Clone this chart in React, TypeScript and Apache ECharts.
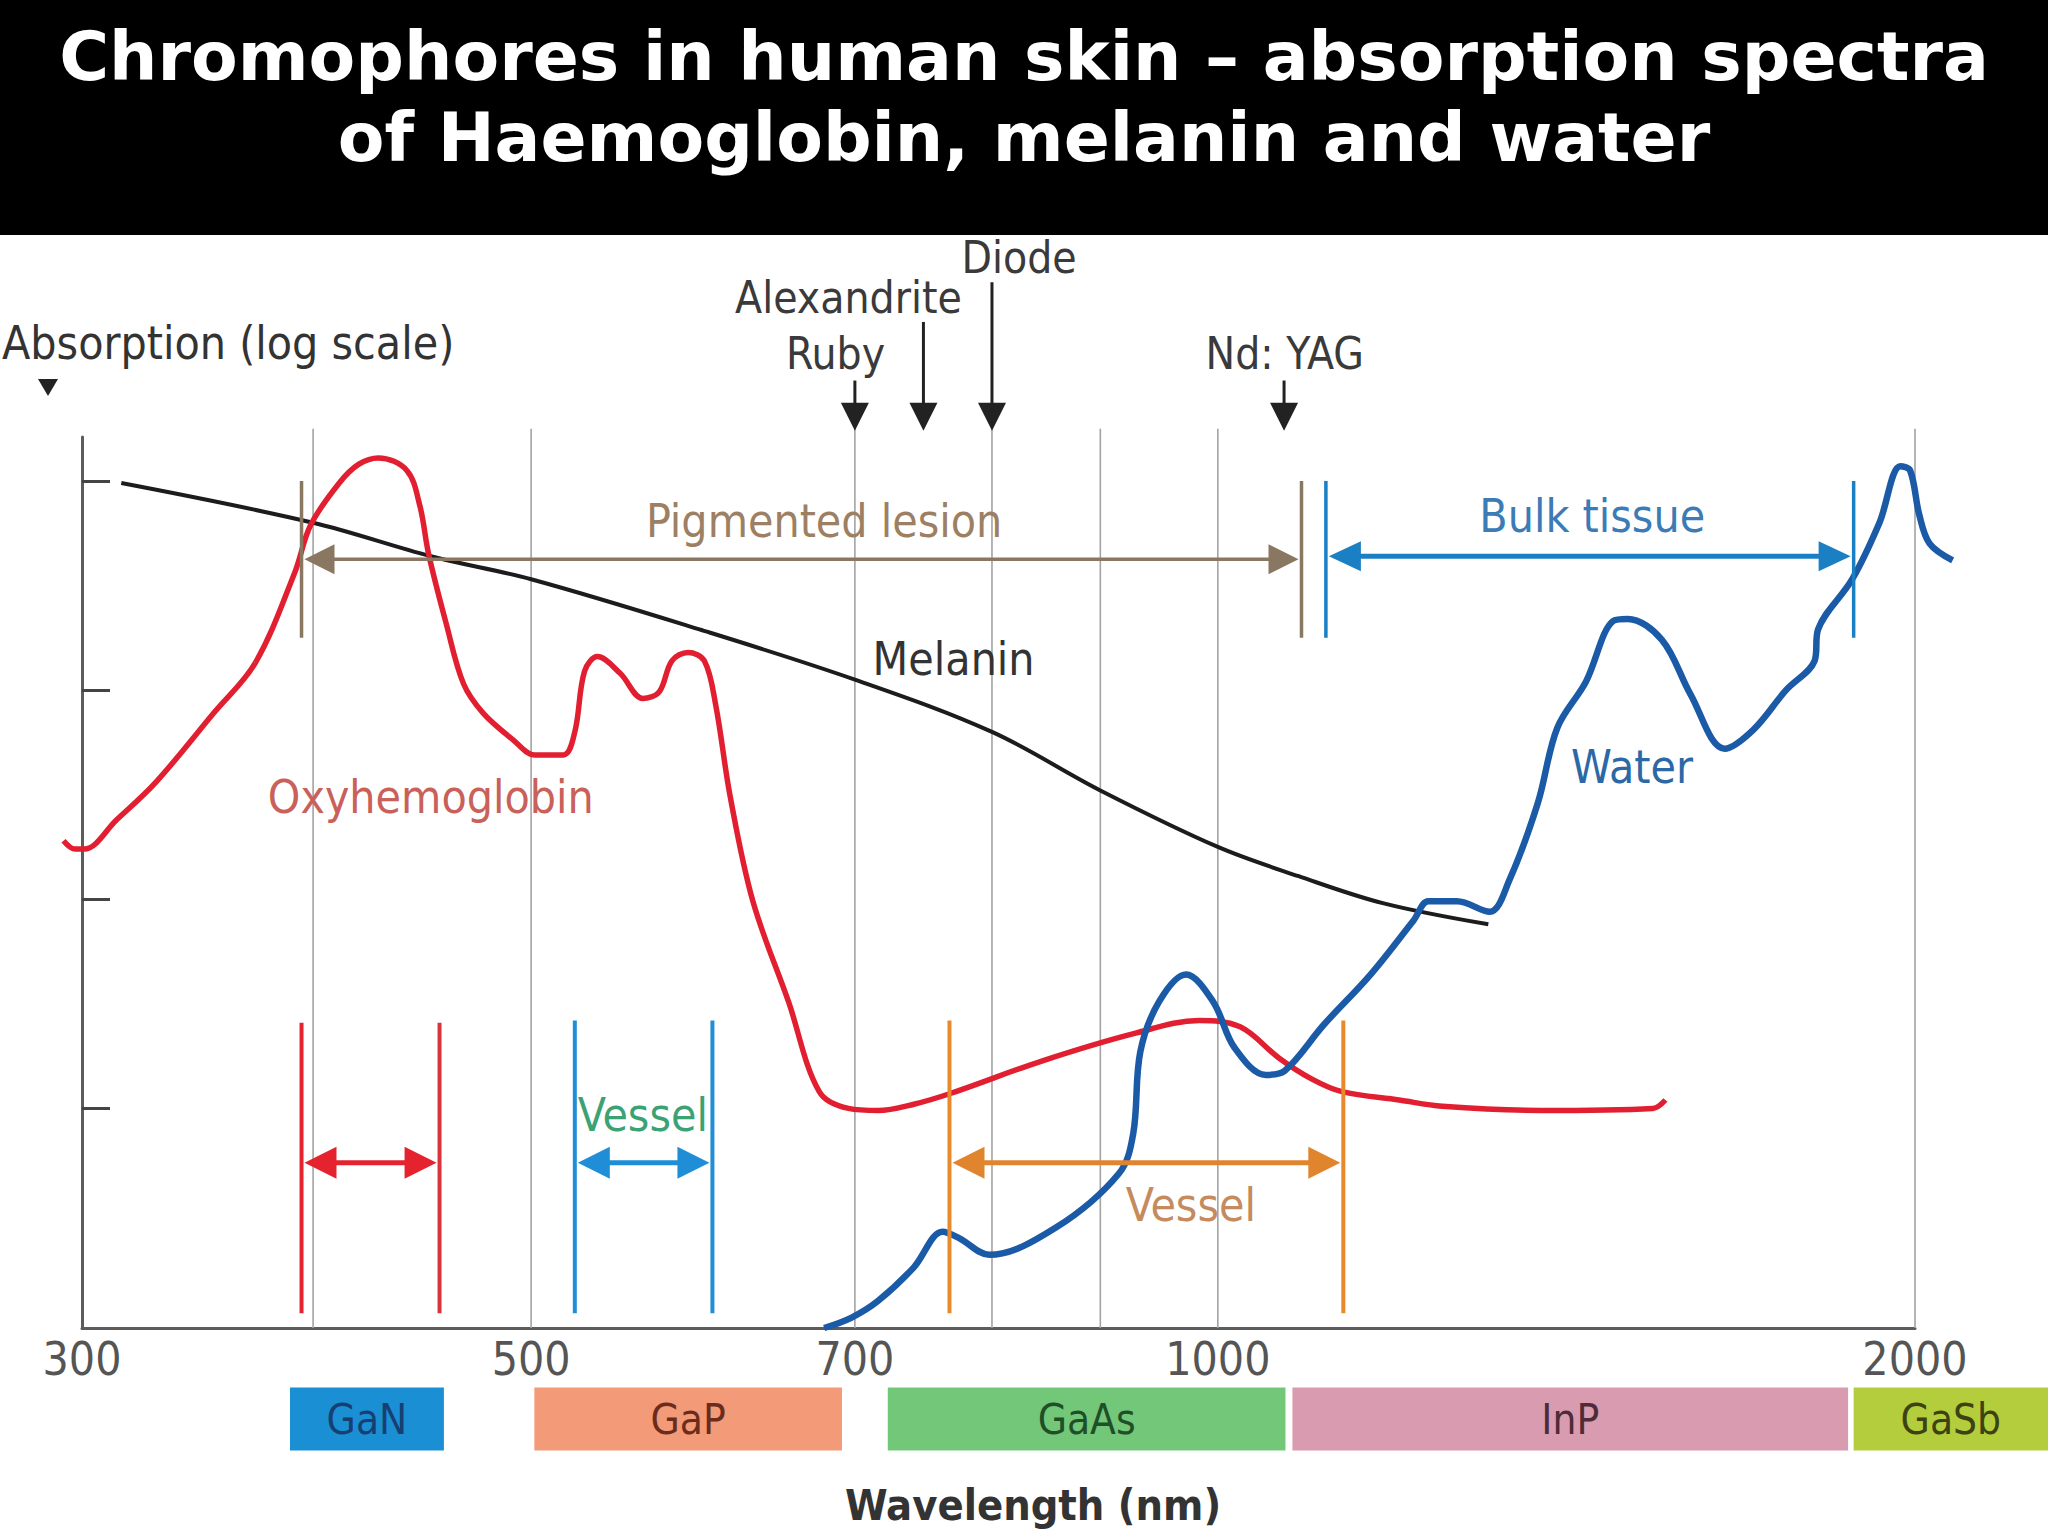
import React, { useEffect, useRef } from "react";
import * as echarts from "echarts";

// ---------- text ----------
const TITLE_LINES = [
  "Chromophores in human skin – absorption spectra",
  "of Haemoglobin, melanin and water",
];
const Y_AXIS_NAME = "Absorption (log scale)";
const X_AXIS_NAME = "Wavelength (nm)";

// ---------- x scale (hand-drawn, roughly logarithmic wavelength axis) ----------
const X_KNOTS_NM = [300, 400, 500, 700, 800, 900, 1000, 2000];
const X_KNOTS_UNIT = [0, 177, 344, 592, 697, 780, 870, 1404];
const X_TICK_LABELS_NM = [300, 500, 700, 1000, 2000];
const GRID_NM = [400, 500, 700, 800, 900, 1000, 2000];
const Y_TICKS = [1, 2, 3, 4];
const Y_MIN = -0.05;
const Y_MAX = 4.21;
// spectra are drawn slightly beyond the framed axis range
const CURVE_NM_MIN = 285;
const CURVE_NM_MAX = 2100;

// ---------- spectra (wavelength nm, log10 absorption, arbitrary) ----------
const oxyNm = [292, 297, 301, 315, 332, 357, 375, 392, 399, 412, 421, 430, 443, 449, 453, 461, 469, 478, 492, 502, 520, 527, 533, 541, 555, 569, 579, 587, 597, 607, 614, 623, 637, 659, 678, 696, 717, 743, 769, 848, 930, 984, 1032, 1088, 1135, 1178, 1260, 1322, 1463, 1624, 1642];
const oxyAbs = [2.28, 2.24, 2.24, 2.38, 2.56, 2.89, 3.13, 3.56, 3.79, 3.99, 4.08, 4.11, 4.05, 3.88, 3.65, 3.32, 3.03, 2.89, 2.76, 2.69, 2.69, 2.8, 3.09, 3.16, 3.08, 2.96, 2.99, 3.14, 3.18, 3.14, 2.93, 2.49, 1.99, 1.51, 1.08, 1.0, 0.99, 1.02, 1.07, 1.23, 1.36, 1.42, 1.39, 1.24, 1.14, 1.08, 1.04, 1.01, 0.99, 1.0, 1.04];

const waterNm = [681, 698, 717, 743, 764, 776, 798, 859, 916, 928, 934, 950, 973, 996, 1024, 1069, 1096, 1152, 1219, 1281, 1302, 1343, 1390, 1418, 1459, 1487, 1528, 1567, 1588, 1637, 1678, 1727, 1768, 1815, 1856, 1861, 1910, 1949, 1979, 1993, 2006, 2021, 2054];
const waterAbs = [-0.05, 0.0, 0.08, 0.24, 0.41, 0.38, 0.3, 0.43, 0.69, 0.88, 1.27, 1.51, 1.64, 1.51, 1.29, 1.16, 1.18, 1.4, 1.64, 1.9, 1.99, 1.99, 1.94, 2.09, 2.46, 2.82, 3.04, 3.33, 3.34, 3.24, 2.98, 2.72, 2.81, 3.0, 3.14, 3.29, 3.53, 3.8, 4.07, 4.05, 3.84, 3.7, 3.62];

const melaninNm = [317, 400, 454, 500, 604, 700, 800, 900, 1000, 1116, 1238, 1388];
const melaninAbs = [3.99, 3.8, 3.64, 3.53, 3.29, 3.05, 2.8, 2.52, 2.25, 2.11, 1.98, 1.88];

// ---------- lasers ----------
const laserNames = ["Ruby", "Alexandrite", "Diode", "Nd: YAG"];
const laserNm = [700, 750, 800, 1095];

// ---------- treatment ranges (nm) ----------
const lesionRangeNm = [395, 1120];
const bulkRangeNm = [1155, 1912];
const redRangeNm = [395, 458];
const blueVesselRangeNm = [527, 612];
const orangeVesselRangeNm = [769, 1180];

// ---------- semiconductor bands ----------
const bandNames = ["GaN", "GaP", "GaAs", "InP", "GaSb"];
const bandStartNm = [390, 502, 724, 1107, 1912];
const bandEndNm = [460, 692, 1097, 1904, 2200];

// ---------- styles / layout ----------
const FONT = '"Liberation Sans Narrow", "DejaVu Sans Condensed", "Roboto Condensed", "Liberation Sans", sans-serif';
const TITLE_FONT = '"DejaVu Sans", Verdana, sans-serif';
const GRID_LEFT = 82;
const GRID_RIGHT = 133;
const GRID_TOP = 437;
const GRID_BOTTOM = 208;
const CHART_W = 2048;
const bandFill = ["#1a8fd4", "#f39a78", "#72c779", "#d89bb0", "#b4cd3c"];
const bandText = ["#173f72", "#6a2c1c", "#1f4f27", "#4d2b38", "#3c4212"];
const laserLayout = [
  { labelNm: 688, labelV: 4.61, top: 4.48 },
  { labelNm: 696, labelV: 4.875, top: 4.76 },
  { labelNm: 825, labelV: 5.07, top: 4.95 },
  { labelNm: 1096, labelV: 4.61, top: 4.48 },
];
const ARROW_TIP_V = 4.24;

function interp(v: number, from: number[], to: number[]): number {
  let i = 0;
  while (i < from.length - 2 && v > from[i + 1]) i++;
  return to[i] + ((v - from[i]) * (to[i + 1] - to[i])) / (from[i + 1] - from[i]);
}
const nmToUnit = (nm: number) => interp(nm, X_KNOTS_NM, X_KNOTS_UNIT);
const unitToNm = (u: number) => interp(u, X_KNOTS_UNIT, X_KNOTS_NM);

const toSeries = (nm: number[], ab: number[]) => nm.map((w, i) => [nmToUnit(w), ab[i]]);

export default function App() {
  const ref = useRef<HTMLDivElement>(null);

  useEffect(() => {
    const chart = echarts.init(ref.current!, null, { renderer: "svg" });
    const uMax = nmToUnit(2000);
    const k = (CHART_W - GRID_LEFT - GRID_RIGHT) / uMax;
    const curveMinU = nmToUnit(CURVE_NM_MIN);
    const curveMaxU = nmToUnit(CURVE_NM_MAX);
    const lineSeries = (name: string, nm: number[], ab: number[], color: string, width: number, z: number) => ({
      name, type: "line", smooth: 0.35, symbol: "none", clip: false, z,
      xAxisIndex: 1, yAxisIndex: 1,
      lineStyle: { color, width },
      data: toSeries(nm, ab),
    });
    const option: any = {
      animation: false,
      backgroundColor: "#ffffff",
      grid: [
        { left: GRID_LEFT, right: GRID_RIGHT, top: GRID_TOP, bottom: GRID_BOTTOM, containLabel: false },
        {
          left: GRID_LEFT + curveMinU * k,
          right: GRID_RIGHT - (curveMaxU - uMax) * k,
          top: GRID_TOP, bottom: GRID_BOTTOM, containLabel: false,
        },
      ],
      xAxis: [
        {
          type: "value", gridIndex: 0, min: 0, max: uMax,
          axisLine: { show: true, onZero: false, lineStyle: { color: "#5c5c5c", width: 3 } },
          axisTick: { show: false },
          splitLine: { show: false },
          axisLabel: {
            customValues: X_TICK_LABELS_NM.map(nmToUnit),
            formatter: (v: number) => String(Math.round(unitToNm(v))),
            color: "#555555", fontSize: 46, fontFamily: FONT, margin: 8,
          },
        },
        { type: "value", gridIndex: 1, min: curveMinU, max: curveMaxU, show: false },
      ],
      yAxis: [
        {
          type: "value", gridIndex: 0, min: Y_MIN, max: Y_MAX,
          axisLine: { show: true, onZero: false, lineStyle: { color: "#5c5c5c", width: 3 } },
          axisTick: { show: true, inside: true, length: 28, customValues: Y_TICKS, lineStyle: { color: "#444", width: 3 } },
          axisLabel: { show: false },
          splitLine: { show: false },
        },
        { type: "value", gridIndex: 1, min: Y_MIN, max: Y_MAX, show: false },
      ],
      series: [
        lineSeries("Melanin", melaninNm, melaninAbs, "#1c1c1c", 4, 3),
        lineSeries("Oxyhemoglobin", oxyNm, oxyAbs, "#e21f30", 5.5, 4),
        lineSeries("Water", waterNm, waterAbs, "#1a5aa6", 6.5, 5),
      ],
    };
    chart.setOption(option);

    const P = (nm: number, v: number) => chart.convertToPixel({ gridIndex: 0 }, [nmToUnit(nm), v]) as number[];
    const g: any[] = [];
    const line = (x1: number, y1: number, x2: number, y2: number, color: string, w: number, z = 6) =>
      g.push({ type: "line", z, silent: true, shape: { x1, y1, x2, y2 }, style: { stroke: color, lineWidth: w } });
    const poly = (points: number[][], color: string, z = 7) =>
      g.push({ type: "polygon", z, silent: true, shape: { points }, style: { fill: color } });
    const text = (s: string, x: number, y: number, color: string, size: number, opts: any = {}) =>
      g.push({
        type: "text", z: opts.z ?? 8, silent: true, x, y,
        style: {
          text: s, fill: color, fontSize: size, fontFamily: opts.family ?? FONT, fontWeight: opts.weight ?? "normal",
          textAlign: opts.align ?? "center", textVerticalAlign: "middle", align: opts.align ?? "center", verticalAlign: "middle",
        },
      });
    const vbar = (nm: number, v0: number, v1: number, color: string, w: number, z = 6) => {
      const a = P(nm, v0), b = P(nm, v1);
      line(a[0], a[1], b[0], b[1], color, w, z);
    };
    const dblArrow = (nmA: number, nmB: number, v: number, color: string, w: number, L: number, H: number) => {
      const a = P(nmA, v), b = P(nmB, v);
      const x0 = a[0] + 3, x1 = b[0] - 3, y = a[1];
      line(x0 + L - 2, y, x1 - L + 2, y, color, w);
      poly([[x0, y], [x0 + L, y - H / 2], [x0 + L, y + H / 2]], color);
      poly([[x1, y], [x1 - L, y - H / 2], [x1 - L, y + H / 2]], color);
    };

    // title band
    g.push({ type: "rect", z: 20, silent: true, shape: { x: 0, y: 0, width: CHART_W, height: 235 }, style: { fill: "#000000" } });
    text(TITLE_LINES[0], 1024, 56, "#ffffff", 68, { weight: "bold", family: TITLE_FONT, z: 21 });
    text(TITLE_LINES[1], 1024, 137, "#ffffff", 68, { weight: "bold", family: TITLE_FONT, z: 21 });

    // vertical grid lines
    GRID_NM.forEach((nm) => vbar(nm, Y_MIN, 4.25, "#a3a3a3", 1.6, 1));

    // axis names
    text(Y_AXIS_NAME, 2, 343, "#333333", 46, { align: "left" });
    poly([[38, 379], [58, 379], [48, 396]], "#222222");
    text(X_AXIS_NAME, 1033, 1505, "#333333", 43, { weight: "bold" });

    // lasers
    laserNames.forEach((name, i) => {
      const tip = P(laserNm[i], ARROW_TIP_V);
      const top = P(laserNm[i], laserLayout[i].top);
      line(tip[0], top[1], tip[0], tip[1] - 20, "#222222", 3);
      poly([[tip[0], tip[1]], [tip[0] - 14, tip[1] - 28], [tip[0] + 14, tip[1] - 28]], "#222222");
      const lp = P(laserLayout[i].labelNm, laserLayout[i].labelV);
      text(name, lp[0], lp[1], "#3a3a3a", 44);
    });

    // pigmented lesion
    vbar(lesionRangeNm[0], 3.25, 4.0, "#8a7762", 3.5);
    vbar(lesionRangeNm[1], 3.25, 4.0, "#8a7762", 3.5);
    dblArrow(lesionRangeNm[0], lesionRangeNm[1], 3.625, "#8a7762", 3.5, 30, 30);
    // bulk tissue
    vbar(bulkRangeNm[0], 3.25, 4.0, "#1b7fc4", 3.5);
    vbar(bulkRangeNm[1], 3.25, 4.0, "#1b7fc4", 3.5);
    dblArrow(bulkRangeNm[0], bulkRangeNm[1], 3.64, "#1b7fc4", 5, 32, 30);
    // red range
    vbar(redRangeNm[0], 0.02, 1.41, "#e5232e", 4);
    vbar(redRangeNm[1], 0.02, 1.41, "#d8343a", 4);
    dblArrow(redRangeNm[0], redRangeNm[1], 0.74, "#e5232e", 5, 32, 32);
    // blue vessel
    vbar(blueVesselRangeNm[0], 0.02, 1.42, "#1f8ed6", 4);
    vbar(blueVesselRangeNm[1], 0.02, 1.42, "#1f8ed6", 4);
    dblArrow(blueVesselRangeNm[0], blueVesselRangeNm[1], 0.74, "#1f8ed6", 5, 32, 32);
    // orange vessel
    vbar(orangeVesselRangeNm[0], 0.02, 1.42, "#e8892b", 4);
    vbar(orangeVesselRangeNm[1], 0.02, 1.42, "#e8892b", 4);
    dblArrow(orangeVesselRangeNm[0], orangeVesselRangeNm[1], 0.74, "#e0852e", 5, 32, 32);

    // curve & range labels
    const label = (s: string, nm: number, v: number, color: string) => {
      const p = P(nm, v);
      text(s, p[0], p[1], color, 46);
    };
    label("Pigmented lesion", 681, 3.81, "#9d8063");
    label("Bulk tissue", 1537, 3.83, "#3b7cb6");
    label("Melanin", 772, 3.15, "#333333");
    label("Oxyhemoglobin", 454, 2.49, "#c9615a");
    label("Water", 1594, 2.63, "#2d68a6");
    label("Vessel", 569, 0.97, "#3ba274");
    label("Vessel", 977, 0.54, "#c58a5e");

    // semiconductor bands
    bandNames.forEach((name, i) => {
      const a = P(bandStartNm[i], -0.335);
      const b = P(bandEndNm[i], -0.636);
      g.push({ type: "rect", z: 6, silent: true, shape: { x: a[0], y: a[1], width: b[0] - a[0], height: b[1] - a[1] }, style: { fill: bandFill[i] } });
      const cx = i === 4 ? (a[0] + CHART_W) / 2 : (a[0] + b[0]) / 2;
      text(name, cx, (a[1] + b[1]) / 2, bandText[i], 42);
    });

    chart.setOption({ graphic: { elements: g } });
    return () => chart.dispose();
  }, []);

  return <div ref={ref} style={{ position: "fixed", left: 0, top: 0, width: CHART_W, height: 1536 }} />;
}
